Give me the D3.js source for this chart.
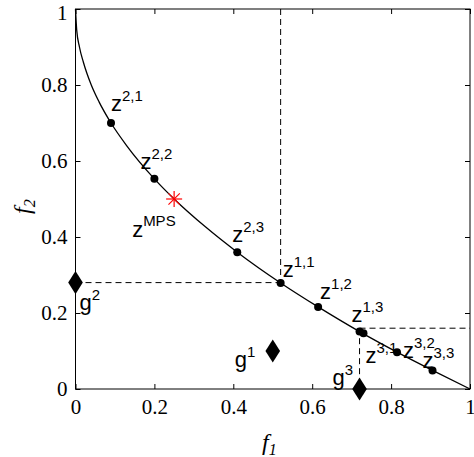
<!DOCTYPE html>
<html><head><meta charset="utf-8">
<script src="https://cdn.jsdelivr.net/npm/d3@7"></script>
<style>body{margin:0;background:#fff}</style></head>
<body><svg id="c" width="474" height="457"></svg>
<script>
// front curve samples
var frontF1 = [0, 0.003, 0.01, 0.02, 0.04, 0.06, 0.09, 0.13, 0.2, 0.25, 0.33, 0.41, 0.52, 0.615, 0.72, 0.815, 0.905, 1];
var frontF2 = [1, 0.945, 0.90, 0.86, 0.80, 0.755, 0.70, 0.64, 0.553, 0.5, 0.426, 0.36, 0.279, 0.216, 0.151, 0.097, 0.049, 0];
var zNames = ["2,1","2,2","2,3","1,1","1,2","1,3","3,1","3,2","3,3"];
var zF1 = [0.09, 0.2, 0.41, 0.52, 0.615, 0.72, 0.73, 0.815, 0.905];
var zF2 = [0.70, 0.553, 0.36, 0.279, 0.216, 0.151, 0.147, 0.097, 0.049];
var zLabDx = [0, -14, -5, 2, 2, -8, 2, 6, -10];
var zLabDy = [-12, -10, -10, -6, -8, -10, 30, 6, -2];
var gNames = ["1","2","3"];
var gF1 = [0.5, 0, 0.72];
var gF2 = [0.1, 0.28, 0];
var mps = [0.25, 0.5];
var ticks = [0, 0.2, 0.4, 0.6, 0.8, 1];
// dashed guide segments [x1,y1,x2,y2]
var guides = [[0.52,1,0.52,0.279],[0,0.28,0.52,0.28],[0.72,0.16,1,0.16],[0.72,0.16,0.72,0]];

var svg = d3.select("#c");
var x = d3.scaleLinear().domain([0,1]).range([75.5,470]);
var y = d3.scaleLinear().domain([0,1]).range([389,9]);

svg.append("rect").attr("x",x(0)).attr("y",y(1)).attr("width",x(1)-x(0)).attr("height",y(0)-y(1))
  .attr("fill","none").attr("stroke","#000").attr("stroke-width",1);
var tf = function(d){ return d===0||d===1 ? String(d) : d3.format(".1f")(d); };
svg.append("g").attr("transform","translate(0,"+y(0)+")").call(d3.axisBottom(x).tickValues(ticks).tickSize(-5).tickPadding(10).tickFormat(tf));
var ay = svg.append("g").attr("transform","translate("+x(0)+",0)").call(d3.axisLeft(y).tickValues(ticks).tickSize(-5).tickPadding(8).tickFormat(tf));
svg.append("g").attr("transform","translate(0,"+y(1)+")").call(d3.axisTop(x).tickValues(ticks).tickSize(-5).tickFormat(""));
svg.append("g").attr("transform","translate("+x(1)+",0)").call(d3.axisRight(y).tickValues(ticks).tickSize(-5).tickFormat(""));
svg.selectAll(".domain").remove();
svg.selectAll(".tick text").attr("font-family","Liberation Serif").attr("font-size",21).attr("fill","#000");
ay.selectAll(".tick text").filter(d=>d===1).attr("dy","0.5em");

svg.selectAll(".guide").data(guides).enter().append("line")
  .attr("x1",d=>x(d[0])).attr("y1",d=>y(d[1])).attr("x2",d=>x(d[2])).attr("y2",d=>y(d[3]))
  .attr("stroke","#000").attr("stroke-dasharray","6,4").attr("stroke-width",1);

svg.append("path").datum(d3.zip(frontF1,frontF2))
  .attr("d",d3.line().x(d=>x(d[0])).y(d=>y(d[1])).curve(d3.curveMonotoneX))
  .attr("fill","none").attr("stroke","#000").attr("stroke-width",1.3);

svg.selectAll(".z").data(zNames).enter().append("circle")
  .attr("cx",(d,i)=>x(zF1[i])).attr("cy",(d,i)=>y(zF2[i])).attr("r",4).attr("fill","#000");
var lab = svg.selectAll(".zl").data(zNames).enter().append("text")
  .attr("x",(d,i)=>x(zF1[i])+zLabDx[i]).attr("y",(d,i)=>y(zF2[i])+zLabDy[i])
  .attr("font-family","Liberation Sans").attr("font-size",22);
lab.append("tspan").text("z");
lab.append("tspan").attr("dy",-10).attr("font-size",15).text(d=>d);

var dia = d3.symbol().type(d3.symbolDiamond).size(140);
svg.selectAll(".g").data(gNames).enter().append("path")
  .attr("d",dia).attr("transform",(d,i)=>"translate("+x(gF1[i])+","+y(gF2[i])+") scale(1.15,1.05)").attr("fill","#000");
var gdx = [-38, 4, -27], gdy = [16, 27, -4];
var gl = svg.selectAll(".gl").data(gNames).enter().append("text")
  .attr("x",(d,i)=>x(gF1[i])+gdx[i]).attr("y",(d,i)=>y(gF2[i])+gdy[i])
  .attr("font-family","Liberation Sans").attr("font-size",22);
gl.append("tspan").text("g");
gl.append("tspan").attr("dy",-10).attr("font-size",15).text(d=>d);

var sx = x(mps[0]), sy = y(mps[1]);
[0,45,90,135].forEach(function(a){
  svg.append("line").attr("x1",sx-8).attr("x2",sx+8).attr("y1",sy).attr("y2",sy)
    .attr("transform","rotate("+a+","+sx+","+sy+")").attr("stroke","red").attr("stroke-width",1.2);
});
var ml = svg.append("text").attr("x",sx-42).attr("y",sy+38).attr("font-family","Liberation Sans").attr("font-size",22);
ml.append("tspan").text("z");
ml.append("tspan").attr("dy",-11).attr("font-size",15).text("MPS");

var xl = svg.append("text").attr("x",262).attr("y",450).attr("font-family","Liberation Serif").attr("font-style","italic").attr("font-size",24);
xl.append("tspan").text("f");
xl.append("tspan").attr("dy",5).attr("font-size",16).text("1");
var yl = svg.append("text").attr("transform","translate(30,214) rotate(-90)").attr("font-family","Liberation Serif").attr("font-style","italic").attr("font-size",24);
yl.append("tspan").text("f");
yl.append("tspan").attr("dy",5).attr("font-size",16).text("2");
</script></body></html>
